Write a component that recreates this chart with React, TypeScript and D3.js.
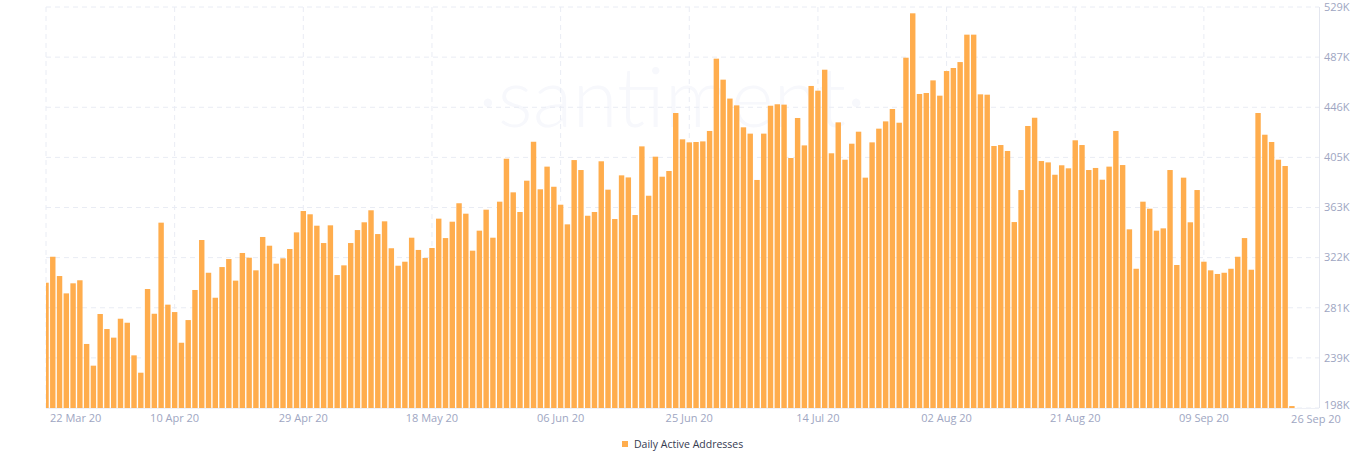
import React from "react";
import * as d3 from "d3";

const START_DATE = "2020-03-22";
const END_DATE = "2020-09-26";
const SERIES_NAME = "Daily Active Addresses";

// Daily active addresses (thousands), one per day from 22 Mar 2020
const values: number[] = [
  301.3, 322.7, 306.8, 292.5, 300.8, 303.3, 250.8, 232.9, 275.5, 263.1,
  256.0, 271.6, 268.3, 241.4, 227.1, 296.1, 275.7, 350.8, 283.2, 277.1,
  251.8, 270.5, 295.3, 336.5, 309.5, 288.9, 314.2, 320.8, 303.0, 325.8,
  321.9, 311.5, 339.0, 331.8, 317.0, 321.4, 329.1, 342.8, 360.4, 357.7,
  348.3, 334.0, 348.6, 307.6, 315.6, 334.0, 344.7, 351.1, 361.0, 341.4,
  351.9, 329.7, 315.3, 318.6, 338.4, 328.3, 321.7, 329.9, 354.1, 338.1,
  351.6, 366.8, 358.2, 327.7, 344.2, 361.5, 338.4, 368.1, 403.5, 375.8,
  359.6, 385.4, 417.5, 378.3, 397.0, 380.4, 365.6, 349.4, 402.4, 394.2,
  356.5, 359.6, 401.4, 378.0, 353.8, 389.8, 388.1, 357.1, 413.7, 373.0,
  405.2, 388.7, 393.4, 441.2, 419.5, 417.0, 417.3, 417.8, 426.4, 486.0,
  468.7, 453.1, 447.5, 429.4, 424.2, 386.0, 424.2, 447.2, 448.4, 448.1,
  404.1, 437.1, 414.5, 463.5, 459.6, 476.9, 408.0, 433.5, 402.7, 415.9,
  425.8, 387.9, 417.0, 428.3, 434.3, 444.5, 433.2, 486.8, 523.4, 456.9,
  457.7, 468.1, 455.5, 475.8, 478.3, 483.2, 505.8, 505.8, 456.6, 456.3,
  414.0, 414.8, 409.9, 351.3, 377.7, 430.5, 437.3, 401.6, 400.5, 390.3,
  398.1, 395.6, 418.7, 414.8, 394.2, 395.9, 386.2, 397.0, 426.4, 398.3,
  345.3, 312.8, 368.1, 362.3, 344.2, 346.1, 394.2, 315.9, 387.9, 351.1,
  377.7, 318.6, 311.5, 308.5, 309.5, 312.8, 322.7, 338.1, 312.0, 441.2,
  423.3, 417.3, 402.7, 397.5, 199.6,
];

const xTickDates = [
  "2020-03-22", "2020-04-10", "2020-04-29", "2020-05-18", "2020-06-06",
  "2020-06-25", "2020-07-14", "2020-08-02", "2020-08-21", "2020-09-09",
];
const yMin = 198000;
const yMax = 528600;
const yTickCount = 9;

const W = 1366;
const H = 462;
const M = { left: 46, right: 1319, top: 7, bottom: 408 };

const parse = d3.utcParse("%Y-%m-%d");
const fmt = d3.utcFormat("%d %b %y");

export default function App() {
  const start = parse(START_DATE)!;
  const end = parse(END_DATE)!;
  const x = d3.scaleUtc().domain([start, end]).range([M.left, M.right]);
  const y = d3.scaleLinear().domain([yMin, yMax]).range([M.bottom, M.top]);
  const data = values.map((v, i) => ({ date: d3.utcDay.offset(start, i), value: v * 1000 }));
  const dayW = x(d3.utcDay.offset(start, 1)) - x(start);
  const bw = dayW * 0.8;
  const yTicks = d3.range(yTickCount).map((i) => yMin + ((yMax - yMin) * i) / (yTickCount - 1));
  const xTicks = xTickDates.map((s) => parse(s)!);
  const gridColor = "#e9ecf4";
  const labelColor = "#9ea6c2";
  const font = "'Open Sans', 'Noto Sans', sans-serif";

  return (
    <svg width={W} height={H} style={{ position: "absolute", left: 0, top: 0, background: "#fff" }} fontFamily={font}>
      <defs>
        <clipPath id="plotClip">
          <rect x={M.left} y={0} width={M.right - M.left} height={M.bottom} />
        </clipPath>
      </defs>
      {/* watermark */}
      <text x={672} y={127} textAnchor="middle" fontSize={82} fontWeight={300} fill="#f7f8fc" fontFamily="Lato, 'Open Sans', sans-serif">
        ·santiment·
      </text>
      {/* horizontal grid */}
      {yTicks.map((t, i) => (
        <line key={"h" + i} x1={M.left} x2={M.right} y1={y(t)} y2={y(t)} stroke={gridColor} strokeDasharray="5,4" />
      ))}
      {/* vertical grid */}
      {xTicks.map((d, i) => (
        <line key={"v" + i} x1={x(d)} x2={x(d)} y1={M.top} y2={M.bottom} stroke={gridColor} strokeDasharray="5,4" />
      ))}
      {/* bars */}
      <g clipPath="url(#plotClip)">
        {data.map((d, i) => (
          <rect key={i} x={x(d.date) - bw / 2} y={y(d.value)} width={bw} height={M.bottom - y(d.value)} fill="#FFAD4D" />
        ))}
      </g>
      {/* axes lines */}
      <line x1={M.right + 0.5} x2={M.right + 0.5} y1={M.top} y2={M.bottom} stroke="#e3e6ef" />
      <line x1={M.left} x2={M.right} y1={M.bottom + 0.5} y2={M.bottom + 0.5} stroke="#eef0f6" />
      {/* y labels */}
      {yTicks.map((t, i) => (
        <text key={"yl" + i} x={M.right + 5} y={i === 0 ? y(t) - 3 : y(t)} dy="0.35em" fontSize={11} fill={labelColor}>
          {Math.round(t / 1000) + "K"}
        </text>
      ))}
      {/* x labels */}
      {xTicks.map((d, i) => (
        <text key={"xl" + i} x={i === 0 ? x(d) + 4 : x(d)} y={418} dy="0.35em" fontSize={11} fill={labelColor} textAnchor={i === 0 ? "start" : "middle"}>
          {fmt(d)}
        </text>
      ))}
      <text x={x(end) - 3} y={419} dy="0.35em" fontSize={11} fill={labelColor} textAnchor="middle">
        {fmt(end)}
      </text>
      {/* legend */}
      <rect x={622} y={441} width={6} height={6} fill="#FFAD4D" />
      <text x={634} y={444} dy="0.35em" fontSize={10.5} fill="#353a50">
        {SERIES_NAME}
      </text>
    </svg>
  );
}
